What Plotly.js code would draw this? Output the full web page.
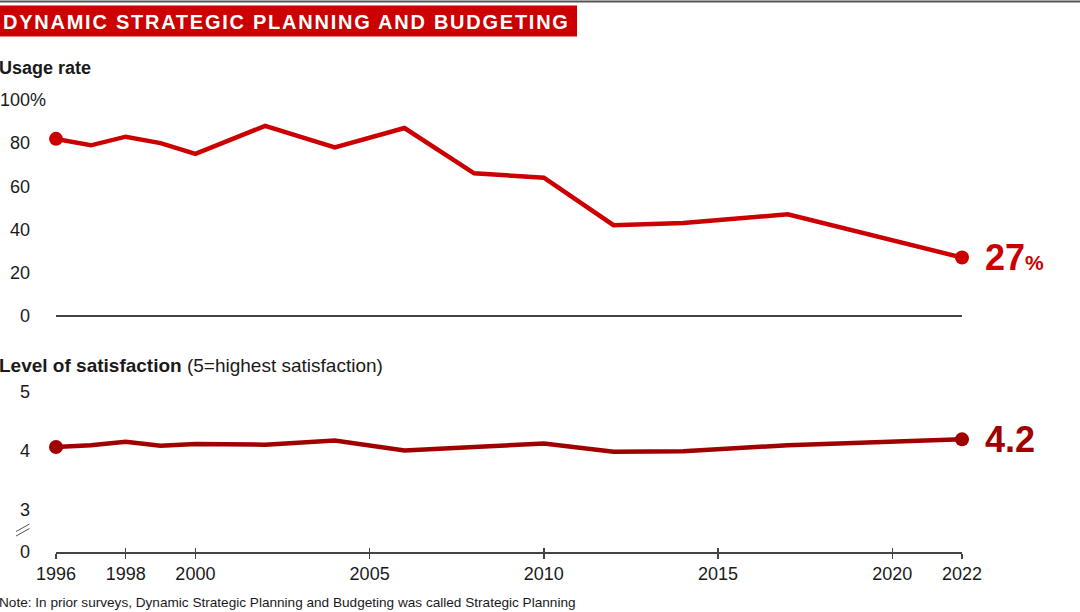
<!DOCTYPE html>
<html><head><meta charset="utf-8">
<script src="https://cdn.plot.ly/plotly-3.0.1.min.js"></script>
<style>html,body{margin:0;padding:0;background:#fff;}</style>
</head><body>
<div id="chart" style="width:1080px;height:612px;"></div>
<script>
// ---- data ----
const years = [1996, 1997, 1998, 1999, 2000, 2002, 2004, 2006, 2008, 2010, 2012, 2014, 2017, 2022];
const usageRate = [82, 79, 83, 80, 75, 88, 78, 87, 66, 64, 42, 43, 47, 27];
const satisfaction = [4.07, 4.10, 4.16, 4.09, 4.12, 4.11, 4.18, 4.01, 4.07, 4.13, 3.99, 4.00, 4.10, 4.2];
const xTickVals = [1996, 1998, 2000, 2005, 2010, 2015, 2020, 2022];
const usageTickVals = [0, 20, 40, 60, 80, 100];
const usageTickText = ['0', '20', '40', '60', '80', '100'];
const satTickVals = [2.29, 3, 4, 5];
const satTickText = ['0', '3', '4', '5'];
const chartTitle = 'DYNAMIC STRATEGIC PLANNING AND BUDGETING';
const noteText = 'Note: In prior surveys, Dynamic Strategic Planning and Budgeting was called Strategic Planning';

// ---- layout helpers ----
const L = 56, R = 962, T = 99.5, B = 552, W = 1080, H = 612;
const px = v => (v - L) / (R - L);
const py = v => (B - v) / (B - T);
const FONT = 'Liberation Sans, Arial, sans-serif';
const RED = '#cc0000', DARKRED = '#a00000', INK = '#1a1a1a', AXIS = '#444444';
const n = years.length - 1;

const traces = [
  {x: years, y: usageRate, mode: 'lines', line: {color: RED, width: 4.5}, xaxis: 'x', yaxis: 'y', cliponaxis: false, hoverinfo: 'skip'},
  {x: [years[0], years[n]], y: [usageRate[0], usageRate[n]], mode: 'markers', marker: {color: RED, size: 14}, xaxis: 'x', yaxis: 'y', cliponaxis: false, hoverinfo: 'skip'},
  {x: years, y: satisfaction, mode: 'lines', line: {color: DARKRED, width: 4.5}, xaxis: 'x', yaxis: 'y2', cliponaxis: false, hoverinfo: 'skip'},
  {x: [years[0], years[n]], y: [satisfaction[0], satisfaction[n]], mode: 'markers', marker: {color: DARKRED, size: 14}, xaxis: 'x', yaxis: 'y2', cliponaxis: false, hoverinfo: 'skip'},
  {x: [], y: [], xaxis: 'x2', yaxis: 'y2', mode: 'lines', hoverinfo: 'skip'}
];

const layout = {
  width: W, height: H,
  margin: {l: L, r: W - R, t: T, b: H - B, pad: 0},
  paper_bgcolor: '#fff', plot_bgcolor: 'rgba(0,0,0,0)',
  showlegend: false,
  font: {family: FONT, color: INK, size: 18},
  xaxis: {
    range: [years[0], years[n]], anchor: 'y2', showline: true, linecolor: AXIS, linewidth: 2,
    ticks: 'outside', ticklen: 4.5, tickwidth: 1.5, tickcolor: AXIS,
    tickvals: xTickVals, ticktext: xTickVals.map(String), tickfont: {size: 18, color: INK},
    showgrid: false, zeroline: false, fixedrange: true
  },
  xaxis2: {
    range: [years[0], years[n]], overlaying: 'x', anchor: 'y2', showline: false,
    ticks: 'inside', ticklen: 4.5, tickwidth: 1.5, tickcolor: AXIS,
    tickvals: xTickVals, showticklabels: false, showgrid: false, zeroline: false, fixedrange: true
  },
  yaxis: {
    domain: [py(315.5), 1], range: [0, 100], anchor: 'x',
    tickvals: usageTickVals, ticktext: usageTickText, tickfont: {size: 18, color: INK},
    ticks: '', ticklabelstandoff: 25,
    showgrid: false, showline: false, zeroline: true, zerolinecolor: AXIS, zerolinewidth: 2, fixedrange: true
  },
  yaxis2: {
    domain: [0, py(392)], range: [2.29, 5], anchor: 'x',
    tickvals: satTickVals, ticktext: satTickText, tickfont: {size: 18, color: INK},
    ticks: '', ticklabelstandoff: 25,
    showgrid: false, showline: false, zeroline: false, fixedrange: true
  },
  shapes: [
    {type: 'line', xref: 'paper', yref: 'paper', x0: px(0), x1: px(W), y0: py(1), y1: py(1), line: {color: '#555', width: 2}},
    {type: 'rect', xref: 'paper', yref: 'paper', x0: px(0), x1: px(577), y0: py(36), y1: py(5), fillcolor: RED, line: {width: 0}},
    {type: 'line', xref: 'paper', yref: 'paper', x0: px(16), x1: px(29.5), y0: py(531.5), y1: py(524), line: {color: '#555', width: 1}},
    {type: 'line', xref: 'paper', yref: 'paper', x0: px(16), x1: px(29.5), y0: py(536), y1: py(528.5), line: {color: '#555', width: 1}}
  ],
  annotations: [
    {xref: 'paper', yref: 'paper', x: px(1), y: py(21), xanchor: 'left', yanchor: 'middle', showarrow: false,
     text: '<b>' + chartTitle + '</b>', font: {size: 20, color: '#fff', family: FONT}},
    {xref: 'paper', yref: 'paper', x: px(-3), y: py(67.5), xanchor: 'left', yanchor: 'middle', showarrow: false,
     text: '<b>Usage rate</b>', font: {size: 18, color: INK}},
    {xref: 'paper', yref: 'y', x: px(28), y: usageTickVals[usageTickVals.length - 1], xanchor: 'left', yanchor: 'middle', showarrow: false,
     text: '%', font: {size: 18, color: INK}},
    {xref: 'paper', yref: 'paper', x: px(-3), y: py(365.5), xanchor: 'left', yanchor: 'middle', showarrow: false,
     text: '<b>Level of satisfaction</b> (5=highest satisfaction)', font: {size: 19, color: INK}},
    {xref: 'paper', yref: 'paper', x: px(-3), y: py(603), xanchor: 'left', yanchor: 'middle', showarrow: false,
     text: noteText, font: {size: 13.6, color: INK}},
    {xref: 'x', yref: 'y', x: years[n], y: usageRate[n], xanchor: 'left', yanchor: 'middle', xshift: 21, showarrow: false,
     text: '<b>' + usageRate[n] + '<span style="font-size:21px">%</span></b>', font: {size: 36, color: RED}},
    {xref: 'x', yref: 'y2', x: years[n], y: satisfaction[n], xanchor: 'left', yanchor: 'middle', xshift: 21, showarrow: false,
     text: '<b>' + satisfaction[n].toFixed(1) + '</b>', font: {size: 36, color: DARKRED}}
  ]
};

Plotly.newPlot('chart', traces, layout, {staticPlot: true, displayModeBar: false}).then(() => {
  document.querySelectorAll('.annotation-text').forEach(t => {
    if (t.textContent.indexOf('DYNAMIC') === 0) {
      const bb = t.getBBox();
      t.setAttribute('text-anchor', 'start');
      t.setAttribute('x', bb.x);
      t.style.letterSpacing = '1.75px';
    }
  });
});
</script>
</body></html>
